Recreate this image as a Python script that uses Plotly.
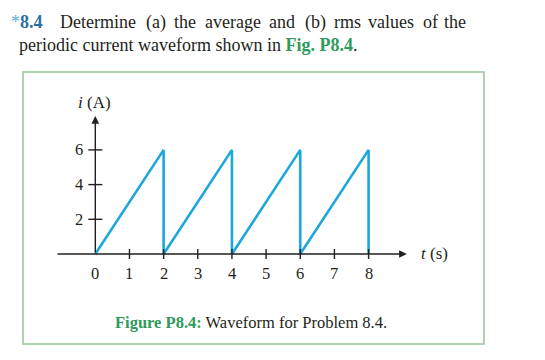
import plotly.graph_objects as go

# Data
t_vals = [0, 2, 2, 4, 4, 6, 6, 8, 8]
i_vals = [0, 6, 0, 6, 0, 6, 0, 6, 0]
x_ticks = [0, 1, 2, 3, 4, 5, 6, 7, 8]
x_tick_labels = ["0", "1", "2", "3", "4", "5", "6", "7", "8"]
y_ticks = [2, 4, 6]
y_tick_labels = ["2", "4", "6"]
line1_words = ["Determine", "(a)", "the", "average", "and", "(b)", "rms", "values", "of", "the"]
line1_x = [58, 144, 172, 203, 267, 303, 332, 366, 421, 468]

W, H = 545, 360
# pixel mapping: x_px = 95.3 + 34.16*t ; y_px = 254 - 17.35*v
x0px, xs = 95.3, 34.16
y0px, ys = 254.0, 17.35
xr = [-x0px / xs, (W - x0px) / xs]
yr = [(y0px - H) / ys, y0px / ys]

SERIF = "Liberation Serif"
AX = "#231f20"
WAVE = "#1ea7dd"
GREEN = "#2e9a5c"
BLUE = "#2a6f9e"

fig = go.Figure()
fig.add_trace(go.Scatter(x=t_vals, y=i_vals, mode="lines",
                         line=dict(color=WAVE, width=2.6), hoverinfo="skip",
                         showlegend=False))

shapes = []
annotations = []

# box border
shapes.append(dict(type="rect", xref="paper", yref="paper",
                   x0=23 / W, x1=484 / W, y0=1 - 344 / H, y1=1 - 72 / H,
                   line=dict(color="#94c596", width=1.5)))

# axes with arrows
annotations.append(dict(x=9.12, y=0, ax=-1.15, ay=0, xref="x", yref="y",
                        axref="x", ayref="y", showarrow=True, arrowhead=2,
                        arrowsize=1.1, arrowwidth=1.4, arrowcolor=AX, text=""))
annotations.append(dict(x=0, y=7.95, ax=0, ay=0, xref="x", yref="y",
                        axref="x", ayref="y", showarrow=True, arrowhead=2,
                        arrowsize=1.1, arrowwidth=1.4, arrowcolor=AX, text=""))

# ticks
tx = 5 / ys
for t in x_ticks[1:]:
    shapes.append(dict(type="line", xref="x", yref="y", x0=t, x1=t,
                       y0=-tx, y1=tx, line=dict(color=AX, width=1.4)))
ty = 7 / xs
for v in y_ticks:
    shapes.append(dict(type="line", xref="x", yref="y", x0=-ty, x1=ty,
                       y0=v, y1=v, line=dict(color=AX, width=1.4)))

for t, lab in zip(x_ticks, x_tick_labels):
    annotations.append(dict(x=t, y=-19 / ys, xref="x", yref="y", text=lab,
                            showarrow=False, font=dict(family=SERIF, size=16.5, color=AX)))
for v, lab in zip(y_ticks, y_tick_labels):
    annotations.append(dict(x=-16 / xs, y=v, xref="x", yref="y", text=lab,
                            showarrow=False, font=dict(family=SERIF, size=16.5, color=AX)))

# axis labels
annotations.append(dict(x=-0.03, y=(254 - 102) / ys, xref="x", yref="y", text="<i>i</i> (A)",
                        showarrow=False, font=dict(family=SERIF, size=17, color=AX)))
annotations.append(dict(x=(419 - x0px) / xs, y=0.05, xref="x", yref="y", text="<i>t</i> (s)",
                        showarrow=False, xanchor="left",
                        font=dict(family=SERIF, size=17, color=AX)))

# header text
annotations.append(dict(x=9 / W, y=1 - 22 / H, xref="paper", yref="paper",
                        xanchor="left", yanchor="middle", showarrow=False,
                        text="<span style='color:#5aaed6'>*</span><b style='color:%s'>8.4</b>" % BLUE,
                        font=dict(family=SERIF, size=18, color=AX)))
n = len(line1_words)
for k, (w, px) in enumerate(zip(line1_words, line1_x)):
    annotations.append(dict(x=px / W, y=1 - 22 / H, xref="paper", yref="paper",
                            xanchor="right" if k == n - 1 else "left",
                            yanchor="middle", showarrow=False,
                            text=w, font=dict(family=SERIF, size=18, color=AX)))
annotations.append(dict(x=17 / W, y=1 - 45 / H, xref="paper", yref="paper",
                        xanchor="left", yanchor="middle", showarrow=False,
                        text="periodic current waveform shown in <b style='color:%s'>Fig. P8.4</b>." % GREEN,
                        font=dict(family=SERIF, size=18, color=AX)))
# caption
annotations.append(dict(x=113 / W, y=1 - 322 / H, xref="paper", yref="paper",
                        xanchor="left", yanchor="middle", showarrow=False,
                        text="<b style='color:%s'>Figure P8.4:</b> Waveform for Problem 8.4." % GREEN,
                        font=dict(family=SERIF, size=16.5, color=AX)))

fig.update_layout(width=W, height=H, margin=dict(l=0, r=0, t=0, b=0),
                  paper_bgcolor="white", plot_bgcolor="white",
                  xaxis=dict(range=xr, visible=False, fixedrange=True),
                  yaxis=dict(range=yr, visible=False, fixedrange=True),
                  shapes=shapes, annotations=annotations)

fig.write_html("out.html", config={"displayModeBar": False, "staticPlot": True},
               post_script="document.body.style.margin='0';")
